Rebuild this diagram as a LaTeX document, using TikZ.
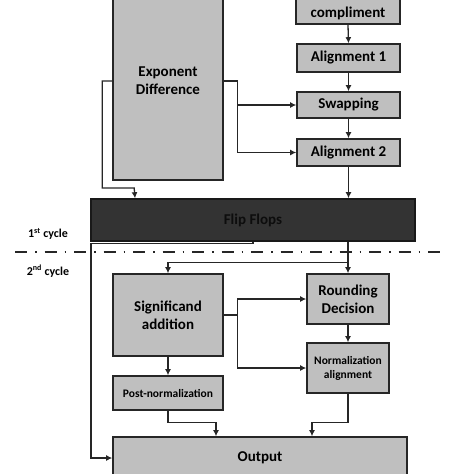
\documentclass[tikz,border=0pt]{standalone}
\usepackage{fontspec}
\setmainfont{Carlito}
\usetikzlibrary{arrows.meta}

\tikzset{
  blk/.style={draw=black!85, line width=1.6pt, fill=black!25, inner sep=0pt, font=\fontsize{15}{18}\selectfont\bfseries, align=center},
  smallblk/.style={blk, font=\fontsize{11.5}{14}\selectfont\bfseries},
  ffbox/.style={draw=black!90, line width=1.6pt, fill=black!80, inner sep=0pt, font=\fontsize{15}{18}\selectfont\bfseries, text=black!95},
  lnk/.style={line width=1.3pt, draw=black!85},
  arr/.style={lnk, -{Latex[length=6pt,width=6pt]}},
  cyc/.style={line width=2.2pt, draw=black!85, dash pattern=on 12pt off 8pt on 1.5pt off 8pt},
  cyclbl/.style={font=\fontsize{12}{14}\selectfont\bfseries}
}

\begin{document}
\begin{tikzpicture}[x=1pt,y=-1pt]
\useasboundingbox[fill=white] (0,0) rectangle (474,474);
% first cycle
\node[blk, minimum width=110, minimum height=198] (expd) at (168,81) {Exponent\\Difference};
\node[blk, minimum width=104, minimum height=42] (twos) at (348,3) {\strut\\compliment};
\node[blk, minimum width=103, minimum height=28] (align1) at (348.5,58) {Alignment 1};
\node[blk, minimum width=103, minimum height=26] (swap) at (348.5,105) {Swapping};
\node[blk, minimum width=103, minimum height=27] (align2) at (348.5,152.5) {Alignment 2};
\node[ffbox, minimum width=324, minimum height=42] (ff) at (253,220) {Flip Flops};

\draw[arr] (twos.south) -- (align1.north);
\draw[arr] (align1.south) -- (swap.north);
\draw[arr] (swap.south) -- (align2.north);
\draw[arr] (align2.south) -- (align2.south |- ff.north);
\draw[lnk] (expd.east) -- ++(14,0) coordinate (ebr);
\draw[arr] (ebr) |- (swap.west);
\draw[arr] (ebr) |- (align2.west);
\draw[arr] (expd.west) -| ++(-10,107) -- ++(32,0) -- (ff.north -| 135,0);

% cycle boundary
\draw[cyc] (15,252) -- (440,252);
\node[cyclbl] (c1) at (48,234) {1\textsuperscript{st} cycle};
\node[cyclbl] (c2) at (48,271) {2\textsuperscript{nd} cycle};

% second cycle
\node[blk, minimum width=110, minimum height=82] (sig) at (168,315) {Significand\\addition};
\node[blk, minimum width=82, minimum height=50] (round) at (348,299) {Rounding\\Decision};
\node[smallblk, minimum width=82, minimum height=50] (norm) at (348,368) {Normalization\\alignment};
\node[smallblk, minimum width=110, minimum height=34] (post) at (168,393) {Post-normalization};
\node[blk, minimum width=294, minimum height=42] (out) at (260,458) {Output};

\draw[arr] (ff.south -| round.north) -- (round.north);
\draw[arr] (ff.south -| round.north) ++(0,21) -| (sig.north);
\draw[lnk] (sig.east) -- ++(14,0) coordinate (sbr);
\draw[arr] (sbr) |- (round.west);
\draw[arr] (sbr) |- (norm.west);
\draw[arr] (sig.south) -- (post.north);
\draw[arr] (round.south) -- (norm.north);
\draw[arr] (post.south) |- ++(48,12) -- (out.north -| 216,0);
\draw[arr] (norm.south) |- ++(-36,29) -- (out.north -| 312,0);
\draw[arr] (ff.south) -- ++(0,2) -| (91,458) -- (out.west);
\end{tikzpicture}
\end{document}
